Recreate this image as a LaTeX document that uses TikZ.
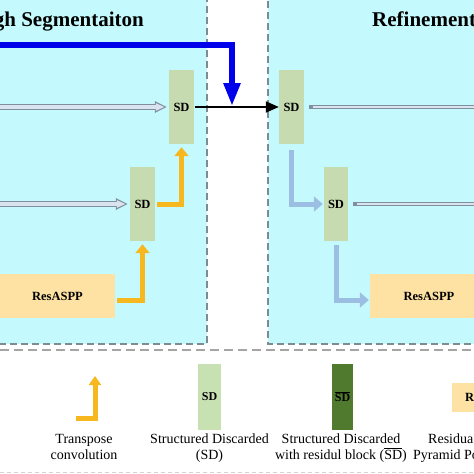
\documentclass[tikz,border=0pt]{standalone}
\usepackage{fontspec}
\setmainfont{Liberation Serif}
\usetikzlibrary{arrows.meta,calc}
\definecolor{panelcyan}{RGB}{196,250,253}
\definecolor{panelline}{RGB}{125,140,145}
\definecolor{sdgreen}{RGB}{198,219,176}
\definecolor{sdlegend}{RGB}{200,225,178}
\definecolor{sddark}{RGB}{80,123,47}
\definecolor{resfill}{RGB}{253,226,163}
\definecolor{orangearr}{RGB}{246,184,30}
\definecolor{lightblue}{RGB}{157,190,227}
\definecolor{grayline}{RGB}{128,143,160}
\definecolor{grayfill}{RGB}{218,228,238}
\definecolor{bigblue}{RGB}{0,0,235}
\definecolor{sepgray}{RGB}{165,165,165}
\begin{document}
\begin{tikzpicture}[x=1pt,y=-1pt,
  sdbox/.style={fill=sdgreen, minimum width=25pt, minimum height=74pt, inner sep=0pt, font=\fontsize{12.5}{14}\selectfont\bfseries},
  resbox/.style={fill=resfill, minimum height=44pt, inner sep=0pt, font=\fontsize{12.5}{14}\selectfont\bfseries},
  panel/.style={fill=panelcyan, draw=panelline, line width=1.2pt, dash pattern=on 7pt off 4pt},
  titletext/.style={font=\fontsize{21}{24}\selectfont\bfseries, inner sep=0pt},
  legtext/.style={font=\fontsize{14}{16}\selectfont, inner sep=0pt},
  orangeflow/.style={draw=orangearr, line width=5pt, line join=miter, -{Triangle[length=9pt,width=14pt]}},
  blueflow/.style={draw=lightblue, line width=5pt, line join=miter, -{Triangle[length=9pt,width=15pt]}},
  bigflow/.style={draw=bigblue, line width=5.5pt, line join=miter, -{Triangle[length=23pt,width=16pt]}},
  blackflow/.style={draw=black, line width=2pt, -{Triangle[length=13pt,width=11pt]}},
  grayouter/.style={draw=grayline, line width=5.5pt, -{Triangle[length=12pt,width=11pt]}},
  grayinner/.style={draw=grayfill, line width=3.3pt, shorten >=2.2pt, -{Triangle[length=8.8pt,width=7pt]}},
  barouter/.style={draw=grayline, line width=4.5pt},
  barinner/.style={draw=grayfill, line width=2.5pt},
]
\useasboundingbox (0,0) rectangle (474,474);
\clip (0,0) rectangle (474,474);

% panels
\draw[panel] (-10,-10) rectangle (207,344);
\draw[panel] (268,-10) rectangle (490,344);
\draw[draw=sepgray, line width=1.3pt, dash pattern=on 9pt off 5pt] (0,350) -- (474,350);
\draw[draw=sepgray!50, line width=0.8pt, dash pattern=on 4pt off 3pt] (0,472.5) -- (474,472.5);

% titles
\node[titletext, anchor=base east] (t1) at (144,26) {gh Segmentaiton};
\node[titletext, anchor=base west] (t2) at (372,26.5) {Refinement};

% blocks
\node[sdbox] (lsd1) at (181.5,107) {SD};
\node[sdbox] (lsd2) at (142.5,204) {SD};
\node[sdbox] (rsd1) at (291.5,107) {SD};
\node[sdbox, minimum width=24pt] (rsd2) at (336,204) {SD};
\node[resbox, minimum width=115pt] (lres) at (57.5,296) {ResASPP};
\node[resbox, minimum width=118pt] (rres) at (429,296) {ResASPP};

% gray hollow arrows (left)
\coordinate (g1s) at (-5,107);
\coordinate (g2s) at (-5,204);
\draw[grayouter] (g1s) -- ([xshift=-2pt]lsd1.west);
\draw[grayinner] (g1s) -- ([xshift=-2pt]lsd1.west);
\draw[grayouter] (g2s) -- ([xshift=-2pt]lsd2.west);
\draw[grayinner] (g2s) -- ([xshift=-2pt]lsd2.west);

% gray bars (right)
\coordinate (rb1s) at ($(rsd1.east)+(5,0)$);
\coordinate (rb1i) at ($(rsd1.east)+(9,0)$);
\coordinate (rb1e) at (480,107);
\coordinate (rb2s) at ($(rsd2.east)+(5,0)$);
\coordinate (rb2i) at ($(rsd2.east)+(9,0)$);
\coordinate (rb2e) at (480,204);
\draw[barouter] (rb1s) -- (rb1e);
\draw[barinner] (rb1i) -- (rb1e);
\draw[barouter] (rb2s) -- (rb2e);
\draw[barinner] (rb2i) -- (rb2e);

% orange transpose convolutions
\draw[orangeflow, shorten <=2pt, shorten >=3pt] (lsd2.east) -| (lsd1.south);
\draw[orangeflow, shorten <=2pt, shorten >=3pt] ([yshift=-4pt]lres.east) -| (lsd2.south);

% light blue flows (right)
\draw[blueflow, shorten <=6pt, shorten >=1pt] (rsd1.south) |- (rsd2.west);
\draw[blueflow, shorten <=4pt, shorten >=1pt] (rsd2.south) |- ([yshift=-4pt]rres.west);

% main connection
\coordinate (bstart) at (-5,45);
\coordinate (bjoin) at (232,106);
\draw[blackflow, shorten <=1pt] (lsd1.east) -- (rsd1.west);
\draw[bigflow] (bstart) -| (bjoin);

% legend
\coordinate (lga) at (76,418);
\coordinate (lgb) at (95,376);
\draw[draw=orangearr, line width=5pt, line join=miter, -{Triangle[length=9pt,width=12pt]}] (lga) -| (lgb);
\node[legtext, anchor=base] (lt1) at (84,443) {Transpose};
\node[legtext, anchor=base] (lt2) at (84,459) {convolution};

\node[fill=sdlegend, minimum width=23pt, minimum height=66pt, inner sep=0pt, font=\fontsize{12}{14}\selectfont\bfseries] (lgsd) at (209.5,397) {SD};
\node[legtext, anchor=base] (ls1) at (209.5,443) {Structured Discarded};
\node[legtext, anchor=base] (ls2) at (209.5,459) {(SD)};

\node[fill=sddark, minimum width=21pt, minimum height=66pt, inner sep=0pt, font=\fontsize{12}{14}\selectfont\bfseries] (lgsdr) at (342.5,397) {$\overline{\hbox{\bfseries SD}}$};
\node[legtext, anchor=base] (lr1) at (341,443) {Structured Discarded};
\node[legtext, anchor=base] (lr2) at (341,459) {with residul block ($\overline{\hbox{SD}}$)};

\node[fill=resfill, minimum width=40pt, minimum height=29pt, inner sep=0pt, anchor=west] (lgres) at (452,397.5) {};
\node[font=\fontsize{12.5}{14}\selectfont\bfseries, inner sep=0pt, anchor=west] (lgresr) at (465,397.5) {R};
\node[legtext, anchor=base west] (lp1) at (428,443) {Residua};
\node[legtext, anchor=base west] (lp2) at (413,459) {Pyramid Po};
\end{tikzpicture}
\end{document}
